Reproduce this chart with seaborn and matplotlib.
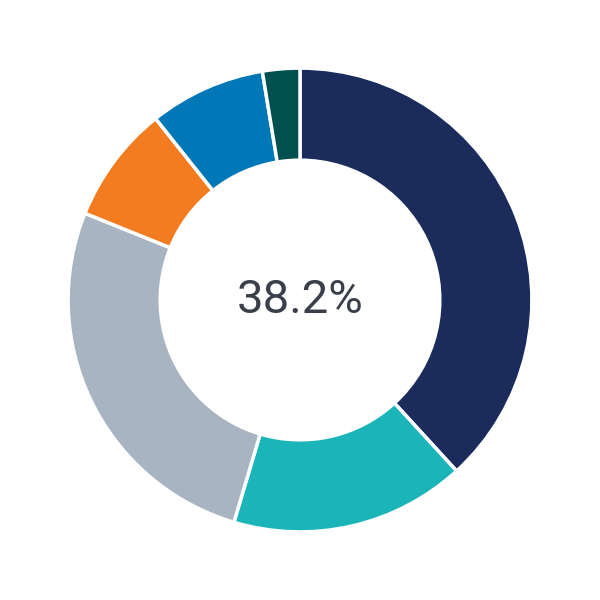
import matplotlib
matplotlib.use("Agg")
import matplotlib.pyplot as plt
import seaborn as sns

sns.set_theme(style="white")
plt.rcParams['font.family'] = ['Roboto', 'DejaVu Sans']

labels = ["A", "B", "C", "D", "E", "F"]
values = [38.2, 16.4, 26.5, 8.2, 8.1, 2.6]
colors = ["#1b2b5b", "#1bb4b8", "#a9b4c3", "#f47c20", "#0077b6", "#00504f"]
center_text = "38.2%"

fig = plt.figure(figsize=(6, 6), dpi=100)
ax = fig.add_axes([0, 0, 1, 1])
ax.pie(values, colors=colors, startangle=90, counterclock=False, radius=0.773,
       wedgeprops=dict(width=0.307, edgecolor="white", linewidth=2.5))
ax.text(0, 0, center_text, ha="center", va="center", fontsize=34, color="#3a3f4a")
ax.set_xlim(-1, 1)
ax.set_ylim(-1, 1)
ax.set_aspect("equal")
ax.axis("off")
fig.savefig("out.png", dpi=100, facecolor="white")
